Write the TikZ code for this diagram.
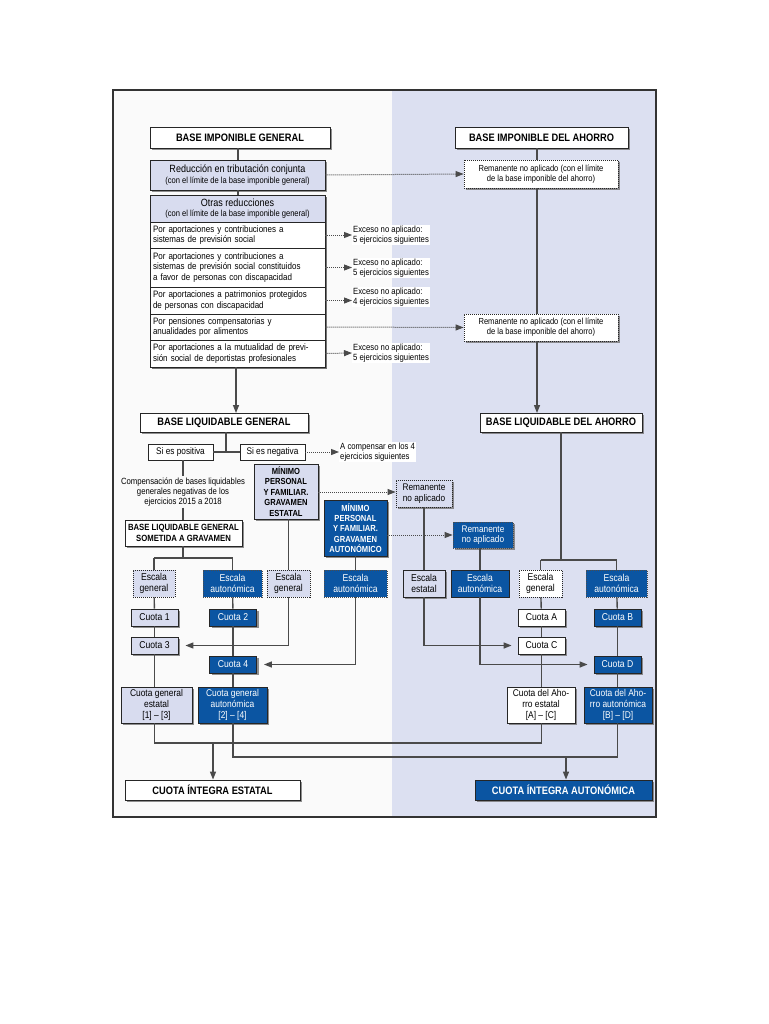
\documentclass[tikz,border=0pt]{standalone}
\usepackage{fontspec}
\setmainfont{Liberation Sans}[FakeStretch=0.86]
\usetikzlibrary{arrows.meta,shadows}
\definecolor{dblue}{HTML}{0B55A2}
\definecolor{lblue}{HTML}{D8DCEF}
\definecolor{rbg}{HTML}{DCE0F1}
\definecolor{ln}{HTML}{4A4A4A}
\begin{document}
\begin{tikzpicture}[x=1pt,y=-1pt,
 sh/.style={drop shadow={shadow xshift=2pt,shadow yshift=-2pt,fill=black!55,opacity=0.8}},
 box/.style={draw=black!85,line width=0.8pt,inner sep=1pt,align=center,font=\fontsize{9.6}{10.4}\selectfont},
 hdr/.style={box,sh,fill=white,font=\fontsize{10.8}{12.5}\selectfont\bfseries},
 lb/.style={box,fill=lblue},
 db/.style={box,fill=dblue,text=white},
 dl/.style={box,dash pattern=on 1pt off 1pt,fill=white},
 dll/.style={box,dash pattern=on 1pt off 1pt,fill=lblue},
 ddb/.style={box,dash pattern=on 1pt off 1pt,draw=black!70,fill=dblue,text=white},
 row/.style={draw=black!85,line width=0.6pt,fill=white,minimum width=175pt,text width=169pt,align=left,inner sep=2pt,font=\fontsize{9.3}{10.2}\selectfont},
 note/.style={align=left,inner sep=1pt,font=\fontsize{9}{9.6}\selectfont,fill=white},
 ln/.style={draw=ln,line width=1.4pt},
 arr/.style={ln,-{Triangle[length=8pt,width=6pt]}},
 dar/.style={draw=ln,line width=1pt,dash pattern=on 1pt off 1pt,-{Triangle[length=8pt,width=6pt]}}]
\useasboundingbox (0,0) rectangle (768,1024);
\fill[white] (0,0) rectangle (768,1024);
\fill[rbg] (392,91) rectangle (655,816);
\fill[black!2] (114,91) rectangle (392,816);
\draw[line width=1.6pt,black!80] (113,90) rectangle (656,817);

% top left
\node[hdr,minimum width=180pt,minimum height=21pt] (big) at (240,137.5) {BASE IMPONIBLE GENERAL};
\node[lb,sh,minimum width=175pt,minimum height=30pt,font=\fontsize{8.8}{10.5}\selectfont] (red) at (237.5,175) {{\fontsize{10.5}{11.5}\selectfont Reducción en tributación conjunta}\\(con el límite de la base imponible general)};
\fill[black!55] (152,197) rectangle (327,369);
\node[lb,minimum width=175pt,minimum height=27pt,line width=0.6pt,font=\fontsize{8.8}{10.5}\selectfont] (otr) at (237.5,208.5) {{\fontsize{10.5}{11.5}\selectfont Otras reducciones}\\(con el límite de la base imponible general)};
\node[row,minimum height=26pt] (r1) at (237.5,235) {Por aportaciones y contribuciones a\\sistemas de previsión social};
\node[row,minimum height=39pt] (r2) at (237.5,267.5) {Por aportaciones y contribuciones a\\sistemas de previsión social constituidos\\a favor de personas con discapacidad};
\node[row,minimum height=27pt] (r3) at (237.5,300.5) {Por aportaciones a patrimonios protegidos\\de personas con discapacidad};
\node[row,minimum height=26pt] (r4) at (237.5,327) {Por pensiones compensatorias y\\anualidades por alimentos};
\node[row,minimum height=27pt] (r5) at (237.5,353.5) {Por aportaciones a la mutualidad de previ-\\sión social de deportistas profesionales};
\draw[black!85,line width=0.8pt] (150,195) rectangle (325,367);
\node[note,anchor=west] (e1) at (352,235) {Exceso no aplicado:\\5 ejercicios siguientes};
\node[note,anchor=west] (e2) at (352,268) {Exceso no aplicado:\\5 ejercicios siguientes};
\node[note,anchor=west] (e3) at (352,297) {Exceso no aplicado:\\4 ejercicios siguientes};
\node[note,anchor=west] (e5) at (352,353) {Exceso no aplicado:\\5 ejercicios siguientes};
\draw[dar] (r1.east) -- (e1.west);
\draw[dar] (r2.east) -- (r2.east -| e2.west);
\draw[dar] (r3.east) -- (r3.east -| e3.west);
\draw[dar] (r5.east) -- (e5.west);

% top right
\node[hdr,minimum width=173pt,minimum height=21pt] (bia) at (541.5,137.5) {BASE IMPONIBLE DEL AHORRO};
\node[dl,sh,minimum width=154pt,minimum height=28pt,font=\fontsize{8.8}{10}\selectfont] (rem1) at (541,174) {Remanente no aplicado (con el límite\\de la base imponible del ahorro)};
\node[dl,sh,minimum width=154pt,minimum height=27pt,font=\fontsize{8.8}{10}\selectfont] (rem2) at (541,327.5) {Remanente no aplicado (con el límite\\de la base imponible del ahorro)};
\draw[dar] (red.east) -- (rem1.west);
\draw[dar] (r4.east) -- (rem2.west);
\draw[ln] (big.south -| 238,0) -- (red.north -| 238,0);
\draw[ln] (red.south -| 238,0) -- (otr.north -| 238,0);
\draw[ln] (bia.south -| 537,0) -- (rem1.north -| 537,0);
\draw[ln] (rem1.south -| 537,0) -- (rem2.north -| 537,0);

\node[hdr,minimum width=168pt,minimum height=19pt] (blg) at (224,422.5) {BASE LIQUIDABLE GENERAL};
\node[hdr,minimum width=162pt,minimum height=19pt] (bla) at (561,422.5) {BASE LIQUIDABLE DEL AHORRO};
\draw[arr] (236,367) -- (236,413);
\draw[arr] (rem2.south -| 537,0) -- (537,413);

% left middle
\node[box,fill=white,minimum width=65pt,minimum height=16pt,line width=0.6pt] (pos) at (180.5,452) {Si es positiva};
\node[box,fill=white,minimum width=65pt,minimum height=16pt,line width=0.6pt] (neg) at (272.5,452) {Si es negativa};
\draw[ln] (blg.south -| 226,0) -- (226,452);
\draw[ln] (pos.east) -- (neg.west);
\node[note,anchor=west] (acomp) at (339,452) {A compensar en los 4\\ejercicios siguientes};
\draw[dar] (neg.east) -- (acomp.west);
\node[align=center,inner sep=1pt,font=\fontsize{9}{10.2}\selectfont,fill=black!2] (comp) at (183,492) {Compensación de bases liquidables\\generales negativas de los\\ejercicios 2015 a 2018};
\node[hdr,font=\fontsize{9}{10.5}\selectfont\bfseries,minimum width=117pt,minimum height=26pt] (blgs) at (183.5,533) {BASE LIQUIDABLE GENERAL\\SOMETIDA A GRAVAMEN};
\draw[ln] (pos.south -| 183,0) -- (comp.north -| 183,0);
\draw[ln] (comp.south -| 183,0) -- (blgs.north -| 183,0);

\node[lb,sh,font=\fontsize{8.8}{10.4}\selectfont\bfseries,minimum width=64pt,minimum height=55pt] (mest) at (286,491.5) {MÍNIMO\\PERSONAL\\Y FAMILIAR.\\GRAVAMEN\\ESTATAL};
\node[db,sh,font=\fontsize{8.8}{10.4}\selectfont\bfseries,minimum width=63pt,minimum height=56pt] (maut) at (355.5,528) {MÍNIMO\\PERSONAL\\Y FAMILIAR.\\GRAVAMEN\\AUTONÓMICO};
\node[dll,sh,minimum width=56pt,minimum height=27pt] (remE) at (424,493.5) {Remanente\\no aplicado};
\node[ddb,sh,minimum width=60pt,minimum height=26pt] (remA) at (483,535) {Remanente\\no aplicado};
\draw[dar] (mest.east |- 0,492) -- (remE.west |- 0,492);
\draw[dar] (maut.east |- 0,535) -- (remA.west);

% escalas
\tikzset{esc/.style={minimum height=27pt,font=\fontsize{10}{11}\selectfont}}
\node[dll,esc,minimum width=42pt] (s1) at (154,583.5) {Escala\\general};
\node[ddb,esc,minimum width=59pt] (s2) at (232.5,583.5) {Escala\\autonómica};
\node[dll,esc,minimum width=43pt] (s3) at (288.5,583.5) {Escala\\general};
\node[ddb,esc,minimum width=63pt] (s4) at (355.5,583.5) {Escala\\autonómica};
\node[lb,sh,esc,minimum width=42pt] (s5) at (424,583.5) {Escala\\estatal};
\node[db,esc,minimum width=58pt] (s6) at (480,583.5) {Escala\\autonómica};
\node[dl,esc,minimum width=43pt] (s7) at (540.5,583.5) {Escala\\general};
\node[ddb,esc,minimum width=61pt] (s8) at (616.5,583.5) {Escala\\autonómica};

\draw[ln] (blgs.south -| 183,0) -- (183,558) (154,558) -- (232.5,558);
\draw[ln] (154,558) -- (s1.north);
\draw[ln] (232.5,558) -- (s2.north);
\draw[ln] (bla.south) -- (561,560) (540.5,560) -- (616.5,560);
\draw[ln] (540.5,560) -- (s7.north);
\draw[ln] (616.5,560) -- (s8.north);
\draw[ln] (mest.south -| s3.north) -- (s3.north);
\draw[ln] (maut.south) -- (s4.north);
\draw[ln] (remE.south) -- (s5.north);
\draw[ln] (remA.south -| s6.north) -- (s6.north);

% cuotas
\tikzset{cq/.style={minimum width=47pt,minimum height=17pt,font=\fontsize{10}{11}\selectfont,sh}}
\node[lb,cq] (c1) at (154.5,617.5) {Cuota 1};
\node[db,cq] (c2) at (233,617.5) {Cuota 2};
\node[lb,cq] (c3) at (154.5,645.5) {Cuota 3};
\node[db,cq] (c4) at (233,664.5) {Cuota 4};
\node[box,fill=white,cq] (cA) at (541.5,617.5) {Cuota A};
\node[db,cq] (cB) at (617.5,617.5) {Cuota B};
\node[box,fill=white,cq] (cC) at (541.5,645.5) {Cuota C};
\node[db,cq] (cD) at (617.5,664.5) {Cuota D};
\tikzset{cg/.style={minimum height=36pt,font=\fontsize{9.8}{10.8}\selectfont,sh}}
\node[lb,cg,minimum width=71pt] (g1) at (156.5,705) {Cuota general\\estatal\\{[1] -- [3]}};
\node[db,cg,minimum width=69pt] (g2) at (232.5,705) {Cuota general\\autonómica\\{[2] -- [4]}};
\node[box,fill=white,cg,minimum width=68pt] (g3) at (541,705) {Cuota del Aho-\\rro estatal\\{[A] -- [C]}};
\node[db,cg,minimum width=68pt] (g4) at (618,705) {Cuota del Aho-\\rro autonómica\\{[B] -- [D]}};

\draw[ln] (s1) -- (c1); \draw[ln] (c1) -- (c3); \draw[ln] (c3) -- (c3 |- g1.north);
\draw[ln] (s2) -- (c2); \draw[ln] (c2) -- (c4); \draw[ln] (c4) -- (c4 |- g2.north);
\draw[ln] (s7) -- (cA); \draw[ln] (cA) -- (cC); \draw[ln] (cC) -- (cC |- g3.north);
\draw[ln] (s8) -- (cB); \draw[ln] (cB) -- (cD); \draw[ln] (cD) -- (cD |- g4.north);
\draw[arr] (s3.south) |- ([xshift=7pt]c3.east);
\draw[arr] (s4.south) |- ([xshift=7pt]c4.east);
\draw[arr] (s5.south) |- ([xshift=-6pt]cC.west);
\draw[arr] (s6.south) |- ([xshift=-6pt]cD.west);

\node[hdr,minimum width=175pt,minimum height=20pt] (cie) at (212.5,790) {CUOTA ÍNTEGRA ESTATAL};
\node[db,sh,font=\fontsize{10.8}{12.5}\selectfont\bfseries,minimum width=177pt,minimum height=20pt] (cia) at (563.5,790) {CUOTA ÍNTEGRA AUTONÓMICA};
\draw[ln] (c3 |- g1.south) -- (154.5,743) -| (cC |- g3.south);
\draw[ln] (c4 |- g2.south) -- (233,757) -| (cD |- g4.south);
\draw[arr] (213,743) -- (cie.north -| 213,0);
\draw[arr] (566,757) -- (cia.north -| 566,0);
\end{tikzpicture}
\end{document}
